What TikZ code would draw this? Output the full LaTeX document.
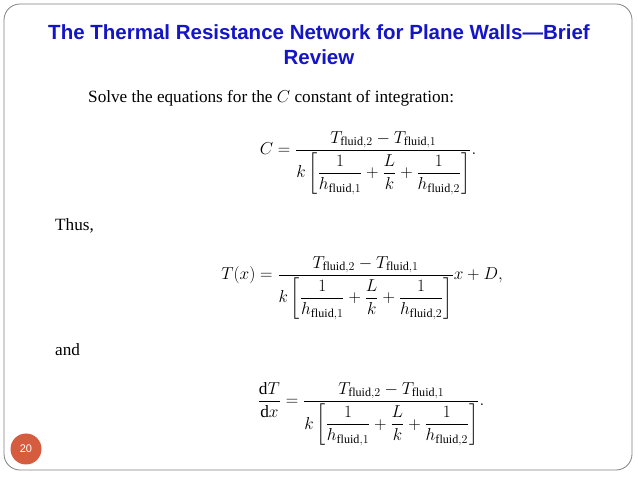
\documentclass[tikz,border=0pt]{standalone}
\usepackage{fontspec}
\usepackage{amsmath}
\setmainfont{Liberation Serif}
\newfontfamily\titlefont{Liberation Sans}
\definecolor{ttl}{RGB}{20,20,200}
\definecolor{pg}{RGB}{213,92,62}
\newcommand{\hf}[1]{h_{\mathrm{fluid},#1}}
\newcommand{\Tf}[1]{T_{\mathrm{fluid},#1}}
\newcommand{\den}{k\left[\dfrac{1}{\hf1}+\dfrac{L}{k}+\dfrac{1}{\hf2}\right]}
\begin{document}
\begin{tikzpicture}[x=1pt,y=-1pt,
  body/.style={anchor=west,inner sep=0pt,font=\fontsize{17.2}{20}\selectfont},
  eq/.style={inner sep=0pt,font=\fontsize{17.3}{20}\selectfont}]
\useasboundingbox (0,0) rectangle (638,478);
\draw[gray,line width=0.8] (4,470) [rounded corners=16] -- (4,4) -- (632,4) -- (632,470) -- cycle;
\node[inner sep=0pt,align=center,text=ttl,font=\titlefont\bfseries\fontsize{20.5}{25}\selectfont] (title) at (319,45)
  {The Thermal Resistance Network for Plane Walls\textemdash Brief\\Review};
\node[body] (t1) at (88,98) {Solve the equations for the $C$ constant of integration:};
\node[eq] (e1) at (368,163) {$C=\dfrac{\Tf2-\Tf1}{\den}.$};
\node[body] (t2) at (55,226) {Thus,};
\node[eq] (e2) at (362,288) {$T(x)=\dfrac{\Tf2-\Tf1}{\den}x+D,$};
\node[body] (t3) at (55,350) {and};
\node[eq] (e3) at (371,414) {$\dfrac{\mathrm{d}T}{\mathrm{d}x}=\dfrac{\Tf2-\Tf1}{\den}.$};
\node[circle,fill=pg,minimum size=31,inner sep=0pt,text=white,font=\titlefont\fontsize{11}{13}\selectfont] (pn) at (26,449) {20};
\end{tikzpicture}
\end{document}
